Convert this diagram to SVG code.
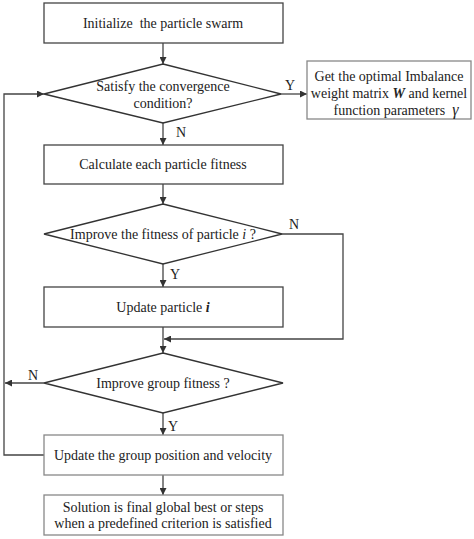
<svg xmlns="http://www.w3.org/2000/svg" width="474" height="539" viewBox="0 0 474 539">
<defs>
<marker id="ah" viewBox="0 0 10 10" refX="10" refY="5" markerWidth="7" markerHeight="7" markerUnits="userSpaceOnUse" orient="auto">
<path d="M0,0 L10,5 L0,10 z" fill="#333"/>
</marker>
<style>
.box{fill:#fff;stroke:#444;stroke-width:1.3}
.gbox{fill:#fff;stroke:#888;stroke-width:1.3}
.dia{fill:#fff;stroke:#333;stroke-width:1.3}
.t{font-family:"Liberation Serif","Times New Roman",serif;font-size:14px;fill:#222;text-anchor:middle}
.lb{font-family:"Liberation Serif","Times New Roman",serif;font-size:14px;fill:#222}
.c{fill:none;stroke:#444;stroke-width:1.3}
</style>
</defs>
<rect width="474" height="539" fill="#fff"/>
<g id="connectors">
<line class="c" x1="163" y1="43" x2="163" y2="64" marker-end="url(#ah)"/>
<line class="c" x1="281" y1="94" x2="307" y2="94" marker-end="url(#ah)"/>
<line class="c" x1="163" y1="123" x2="163" y2="145" marker-end="url(#ah)"/>
<line class="c" x1="163" y1="184" x2="163" y2="204" marker-end="url(#ah)"/>
<line class="c" x1="163" y1="264" x2="163" y2="287" marker-end="url(#ah)"/>
<polyline class="c" points="282,234 343,234 343,339 164,339" marker-end="url(#ah)"/>
<line class="c" x1="163" y1="327" x2="163" y2="353" marker-end="url(#ah)"/>
<line class="c" x1="44" y1="383" x2="5" y2="383" marker-end="url(#ah)"/>
<line class="c" x1="163" y1="413" x2="163" y2="435" marker-end="url(#ah)"/>
<polyline class="c" points="44,455 4,455 4,94 44,94" marker-end="url(#ah)"/>
<line class="c" x1="163" y1="475" x2="163" y2="495" marker-end="url(#ah)"/>
<text class="lb" x="285" y="90">Y</text>
<text class="lb" x="176" y="137">N</text>
<text class="lb" x="289" y="229">N</text>
<text class="lb" x="170" y="279">Y</text>
<text class="lb" x="28" y="380">N</text>
<text class="lb" x="168" y="431">Y</text>
</g>
<g id="init">
<rect class="box" x="44" y="3" width="239" height="40"/>
<text class="t" x="163" y="28" xml:space="preserve">Initialize  the particle swarm</text>
</g>
<g id="converge">
<polygon class="dia" points="163,64 281,94 163,123 44,94"/>
<text class="t" x="163" y="91">Satisfy the convergence</text>
<text class="t" x="163" y="108">condition?</text>
</g>
<g id="optimal">
<rect class="gbox" x="307" y="61" width="164" height="58"/>
<text class="t" x="389" y="81">Get the optimal Imbalance</text>
<text class="t" x="389" y="98">weight matrix <tspan font-weight="bold" font-style="italic">W</tspan> and kernel</text>
<text class="t" x="396" y="115" xml:space="preserve">function parameters  <tspan font-style="italic" font-size="16px">γ</tspan></text>
</g>
<g id="calc">
<rect class="box" x="44" y="145" width="239" height="39"/>
<text class="t" x="163" y="169">Calculate each particle fitness</text>
</g>
<g id="improve-particle">
<polygon class="dia" points="163,204 282,234 163,264 44,234"/>
<text class="t" x="163" y="239">Improve the fitness of particle <tspan font-style="italic">i</tspan> ?</text>
</g>
<g id="update-particle">
<rect class="box" x="44" y="287" width="239" height="40"/>
<text class="t" x="163" y="312">Update particle <tspan font-weight="bold" font-style="italic">i</tspan></text>
</g>
<g id="improve-group">
<polygon class="dia" points="163,353 283,383 163,413 44,383"/>
<text class="t" x="163" y="388">Improve group fitness ?</text>
</g>
<g id="update-group">
<rect class="gbox" x="44" y="435" width="239" height="40"/>
<text class="t" x="163" y="460">Update the group position and velocity</text>
</g>
<g id="solution">
<rect class="gbox" x="44" y="495" width="239" height="40"/>
<text class="t" x="163" y="512">Solution is final global best or steps</text>
<text class="t" x="163" y="528">when a predefined criterion is satisfied</text>
</g>
</svg>
